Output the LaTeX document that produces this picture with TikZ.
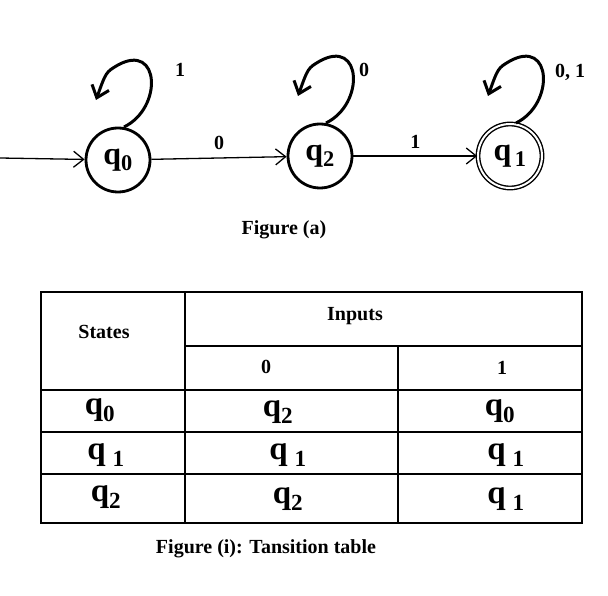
\documentclass[tikz,border=0pt]{standalone}
\usepackage{fontspec}
\setmainfont{Liberation Serif}
\usetikzlibrary{calc,arrows.meta}
\begin{document}
\begin{tikzpicture}[x=1pt,y=-1pt,
  st/.style={circle,draw,line width=2.8pt,minimum size=64pt,inner sep=0pt,font=\bfseries\fontsize{32}{34}\selectfont},
  acc/.style={st,double,double distance=2pt,line width=1.4pt},
  edge/.style={line width=1.3pt,-{Straight Barb[length=10pt,width=16pt]}},
  loopa/.style={line width=3pt,-{Straight Barb[length=11pt,width=18pt]}},
  lbl/.style={font=\bfseries\fontsize{20}{22}\selectfont},
  cell/.style={font=\bfseries\fontsize{33}{35}\selectfont},
  tl/.style={line width=2.2pt}]
\useasboundingbox (0,0) rectangle (608,596);
\node[st] (q0) at (118,160) {q$_{\mathbf 0}$};
\node[st] (q2) at (320,156) {q$_{\mathbf 2}$};
\node[acc] (q1) at (510,156) {q$_{\,\mathbf 1}$};
\coordinate (in) at (0,158);
\draw[edge] (in) -- (q0);
\draw[edge] (q0) -- node[lbl,above=4pt]{0} (q2);
\draw[edge] (q2) -- node[lbl,above=4pt]{1} (q1);
\foreach \n in {q0,q2,q1}{
  \draw[loopa] ($(\n)+(6,-33)$) .. controls ($(\n)+(45,-52)$) and ($(\n)+(42,-118)$) .. ($(\n)+(0,-95)$) .. controls ($(\n)+(-12,-88)$) .. ($(\n)+(-22,-60)$);
}
\node[lbl] (l0) at (180,70) {1};
\node[lbl] (l2) at (364,70) {0};
\node[lbl] (l1) at (570,72) {0, 1};
\node[lbl] (fa) at (284,230) {Figure (a)};
\draw[tl] (41,292) rectangle (582,523);
\draw[tl] (185,292) -- (185,523);
\draw[tl] (185,346) -- (582,346);
\draw[tl] (398,346) -- (398,523);
\draw[tl] (41,390) -- (582,390);
\draw[tl] (41,432) -- (582,432);
\draw[tl] (41,474) -- (582,474);
\node[lbl] (hs) at (104,332) {States};
\node[lbl] (hi) at (355,316) {Inputs};
\node[lbl] (h0) at (266,367) {0};
\node[lbl] (h1) at (502,368) {1};
\node[cell] (a1) at (100,410) {q$_{\mathbf 0}$};
\node[cell] (a2) at (278,412) {q$_{\mathbf 2}$};
\node[cell] (a3) at (500,411) {q$_{\mathbf 0}$};
\node[cell] (b1) at (106,455) {q$_{\;\mathbf 1}$};
\node[cell] (b2) at (288,455) {q$_{\;\mathbf 1}$};
\node[cell] (b3) at (506,455) {q$_{\;\mathbf 1}$};
\node[cell] (c1) at (106,497) {q$_{\mathbf 2}$};
\node[cell] (c2) at (288,499) {q$_{\mathbf 2}$};
\node[cell] (c3) at (506,499) {q$_{\;\mathbf 1}$};
\node[lbl] (ft) at (266,549) {Figure (i): Tansition table};
\end{tikzpicture}
\end{document}
